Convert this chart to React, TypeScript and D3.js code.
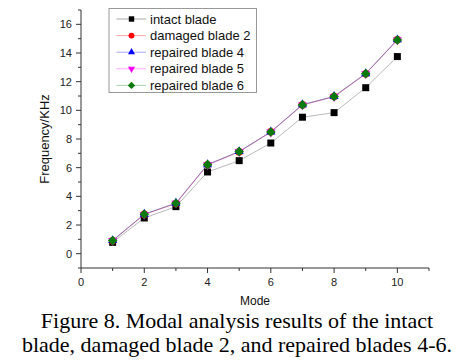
import React from "react";
import * as d3 from "d3";

const modes = [1, 2, 3, 4, 5, 6, 7, 8, 9, 10];
const intact = [0.79, 2.49, 3.28, 5.7, 6.49, 7.72, 9.52, 9.84, 11.58, 13.75];
const damaged2 = [0.9, 2.74, 3.5, 6.2, 7.1, 8.5, 10.38, 10.96, 12.55, 14.92];
const repaired4 = [0.92, 2.76, 3.53, 6.22, 7.13, 8.5, 10.4, 10.98, 12.57, 14.93];
const repaired5 = [0.91, 2.73, 3.51, 6.19, 7.11, 8.48, 10.37, 10.95, 12.55, 14.9];
const repaired6 = [0.91, 2.75, 3.52, 6.21, 7.12, 8.49, 10.38, 10.96, 12.56, 14.91];

const seriesNames = ["intact blade", "damaged blade 2", "repaired blade 4", "repaired blade 5", "repaired blade 6"];
const seriesColors = ["#000000", "#ff0000", "#0000ff", "#ff00ff", "#0a7a0a"];
const seriesValues = [intact, damaged2, repaired4, repaired5, repaired6];
const seriesSymbols = [d3.symbolSquare, d3.symbolCircle, d3.symbolTriangle, "down", d3.symbolDiamond];

const xTicks = [0, 2, 4, 6, 8, 10];
const yTicks = [0, 2, 4, 6, 8, 10, 12, 14, 16];

function Marker({ kind, color, x, y, scale = 1 }: { kind: any; color: string; x: number; y: number; scale?: number }) {
  if (kind === "down") {
    const path = d3.symbol(d3.symbolTriangle, 36 * scale)()!;
    return <path d={path} fill={color} transform={`translate(${x},${y}) rotate(180)`} />;
  }
  if (kind === d3.symbolDiamond) {
    // wider, Origin-like diamond
    const path = d3.symbol(d3.symbolSquare, 46 * scale)()!;
    return <path d={path} fill={color} transform={`translate(${x},${y}) rotate(45)`} />;
  }
  const size = kind === d3.symbolSquare ? 49 : kind === d3.symbolTriangle ? 36 : 46;
  const path = d3.symbol(kind, size * scale)()!;
  return <path d={path} fill={color} transform={`translate(${x},${y})`} />;
}

export default function App() {
  const x = d3.scaleLinear().domain([0, 11]).range([81, 429]);
  const y = d3.scaleLinear().domain([-1, 17]).range([268, 10]);
  const line = d3
    .line<number>()
    .x((_, i) => x(modes[i]))
    .y((d) => y(d));

  const font = "Liberation Sans, Arial, sans-serif";
  const serif = "Liberation Serif, Times New Roman, serif";
  const minorX = d3.range(1, 12, 2);
  const minorY = d3.range(-1, 18, 2);

  return (
    <svg
      width={474}
      height={361}
      style={{ position: "absolute", left: 0, top: 0, background: "#fff" }}
      fontFamily={font}
    >
      {/* axes */}
      <line x1={x(0)} x2={x(0)} y1={y(-1)} y2={y(17)} stroke="#333" strokeWidth={1} />
      <line x1={x(0)} x2={x(11)} y1={y(-1)} y2={y(-1)} stroke="#333" strokeWidth={1} />
      {yTicks.map((v) => (
        <g key={"y" + v}>
          <line x1={x(0) - 5} x2={x(0)} y1={y(v)} y2={y(v)} stroke="#333" />
          <text x={x(0) - 9} y={y(v) + 4} fontSize={11} textAnchor="end" fill="#222">
            {v}
          </text>
        </g>
      ))}
      {minorY.map((v) => (
        <line key={"my" + v} x1={x(0) - 3} x2={x(0)} y1={y(v)} y2={y(v)} stroke="#333" />
      ))}
      {xTicks.map((v) => (
        <g key={"x" + v}>
          <line x1={x(v)} x2={x(v)} y1={y(-1)} y2={y(-1) + 5} stroke="#333" />
          <text x={x(v)} y={y(-1) + 18} fontSize={11} textAnchor="middle" fill="#222">
            {v}
          </text>
        </g>
      ))}
      {minorX.map((v) => (
        <line key={"mx" + v} x1={x(v)} x2={x(v)} y1={y(-1)} y2={y(-1) + 3} stroke="#333" />
      ))}
      <text x={255} y={305} fontSize={12} textAnchor="middle" fill="#111">
        Mode
      </text>
      <text
        transform={`translate(49,${y(8)}) rotate(-90)`}
        fontSize={13}
        textAnchor="middle"
        fill="#111"
      >
        Frequency/KHz
      </text>

      {/* series */}
      {seriesValues.map((vals, s) => (
        <path
          key={"l" + s}
          d={line(vals)!}
          fill="none"
          stroke={seriesColors[s]}
          strokeOpacity={0.35}
          strokeWidth={0.8}
        />
      ))}
      {seriesValues.map((vals, s) => (
        <g key={"m" + s}>
          {vals.map((v, i) => (
            <Marker key={i} kind={seriesSymbols[s]} color={seriesColors[s]} x={x(modes[i])} y={y(v)} />
          ))}
        </g>
      ))}

      {/* legend */}
      <rect x={109} y={8.5} width={147.5} height={84} fill="#fff" stroke="#999" strokeWidth={1} />
      {seriesNames.map((name, s) => {
        const cy = 19 + s * 16.6;
        return (
          <g key={"lg" + s}>
            <line x1={116.5} x2={146} y1={cy} y2={cy} stroke={seriesColors[s]} strokeOpacity={0.35} />
            <Marker kind={seriesSymbols[s]} color={seriesColors[s]} x={131.5} y={cy} scale={0.6} />
            <text x={150} y={cy + 4.5} fontSize={13} fill="#111">
              {name}
            </text>
          </g>
        );
      })}

      {/* caption */}
      <text x={237} y={328} fontSize={22} textAnchor="middle" fontFamily={serif} fill="#000">
        Figure 8. Modal analysis results of the intact
      </text>
      <text x={237} y={352} fontSize={22} textAnchor="middle" fontFamily={serif} fill="#000">
        blade, damaged blade 2, and repaired blades 4-6.
      </text>
    </svg>
  );
}
